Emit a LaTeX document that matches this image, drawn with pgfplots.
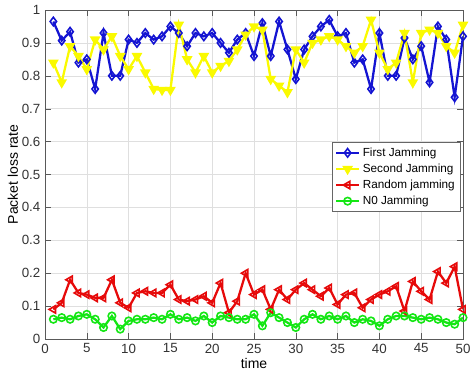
\documentclass[border=0pt]{standalone}
\usepackage{pgfplots}
\pgfplotsset{compat=1.18}
\usepackage{fontspec}
\setmainfont{Liberation Sans}
\definecolor{mblue}{RGB}{20,20,210}
\definecolor{myellow}{RGB}{250,250,0}
\definecolor{mred}{RGB}{230,10,10}
\definecolor{mgreen}{RGB}{20,230,20}
\begin{document}
\begin{tikzpicture}
\begin{axis}[
  scale only axis,
  width=313.5pt, height=246.75pt,
  xmin=0, xmax=50, ymin=0, ymax=1,
  xtick={0,5,...,50},
  ytick={0,0.1,...,1.0},
  yticklabel style={/pgf/number format/fixed,/pgf/number format/precision=1},
  /pgf/number format/assume math mode=true,
  tick label style={font=\fontsize{10}{12}\selectfont, text=black!80},
  label style={font=\fontsize{10.5}{12}\selectfont},
  xlabel={time}, ylabel={Packet loss rate},
  xlabel style={yshift=3pt},
  ylabel style={yshift=-4pt},
  grid=major,
  major grid style={gray!25, line width=0.4pt},
  axis line style={black!65},
  tick style={black!65},
  tick align=inside,
  legend style={at={(0.993,0.598)}, anchor=north east, font=\fontsize{8.8}{10.5}\selectfont,
    draw=black!60, row sep=0.2pt, inner sep=1.8pt},
  legend cell align=left,
  every axis plot/.append style={line width=1.7pt},
]
\addplot[mblue, mark=diamond, mark size=3.2pt, mark options={line width=1.2pt}] coordinates {
(1,0.965)(2,0.907)(3,0.934)(4,0.84)(5,0.85)(6,0.76)(7,0.93)(8,0.80)(9,0.80)(10,0.91)
(11,0.90)(12,0.93)(13,0.91)(14,0.92)(15,0.95)(16,0.93)(17,0.89)(18,0.93)(19,0.92)(20,0.93)
(21,0.90)(22,0.87)(23,0.91)(24,0.93)(25,0.86)(26,0.96)(27,0.86)(28,0.965)(29,0.88)(30,0.79)
(31,0.88)(32,0.92)(33,0.95)(34,0.97)(35,0.92)(36,0.93)(37,0.84)(38,0.85)(39,0.76)(40,0.93)
(41,0.80)(42,0.80)(43,0.915)(44,0.85)(45,0.89)(46,0.78)(47,0.95)(48,0.91)(49,0.735)(50,0.92)
};
\addlegendentry{First Jamming}
\addplot[myellow, mark=triangle*, mark size=3pt, mark options={rotate=180, fill=myellow}] coordinates {
(1,0.84)(2,0.78)(3,0.89)(4,0.86)(5,0.82)(6,0.91)(7,0.88)(8,0.92)(9,0.86)(10,0.82)
(11,0.86)(12,0.81)(13,0.76)(14,0.757)(15,0.757)(16,0.955)(17,0.85)(18,0.81)(19,0.86)(20,0.81)
(21,0.83)(22,0.845)(23,0.88)(24,0.925)(25,0.95)(26,0.94)(27,0.79)(28,0.77)(29,0.75)(30,0.88)
(31,0.84)(32,0.90)(33,0.91)(34,0.92)(35,0.91)(36,0.89)(37,0.87)(38,0.89)(39,0.97)(40,0.87)
(41,0.82)(42,0.84)(43,0.93)(44,0.78)(45,0.93)(46,0.94)(47,0.93)(48,0.89)(49,0.87)(50,0.955)
};
\addlegendentry{Second Jamming}
\addplot[mred, mark=triangle, mark size=3.2pt, mark options={rotate=90, line width=1.2pt}] coordinates {
(1,0.09)(2,0.11)(3,0.18)(4,0.14)(5,0.135)(6,0.125)(7,0.125)(8,0.18)(9,0.11)(10,0.095)
(11,0.14)(12,0.145)(13,0.14)(14,0.14)(15,0.165)(16,0.12)(17,0.115)(18,0.12)(19,0.13)(20,0.11)
(21,0.17)(22,0.08)(23,0.115)(24,0.20)(25,0.135)(26,0.15)(27,0.09)(28,0.15)(29,0.12)(30,0.15)
(31,0.17)(32,0.15)(33,0.13)(34,0.155)(35,0.105)(36,0.135)(37,0.14)(38,0.095)(39,0.12)(40,0.135)
(41,0.145)(42,0.16)(43,0.085)(44,0.175)(45,0.145)(46,0.12)(47,0.205)(48,0.17)(49,0.22)(50,0.09)
};
\addlegendentry{Random jamming}
\addplot[mgreen, mark=o, mark size=2.8pt, mark options={line width=1.2pt}] coordinates {
(1,0.06)(2,0.065)(3,0.06)(4,0.07)(5,0.075)(6,0.06)(7,0.035)(8,0.07)(9,0.03)(10,0.055)
(11,0.06)(12,0.06)(13,0.065)(14,0.06)(15,0.075)(16,0.06)(17,0.065)(18,0.055)(19,0.07)(20,0.05)
(21,0.07)(22,0.065)(23,0.06)(24,0.06)(25,0.075)(26,0.04)(27,0.08)(28,0.065)(29,0.05)(30,0.035)
(31,0.06)(32,0.075)(33,0.06)(34,0.07)(35,0.06)(36,0.07)(37,0.05)(38,0.06)(39,0.055)(40,0.04)
(41,0.06)(42,0.07)(43,0.07)(44,0.065)(45,0.06)(46,0.065)(47,0.06)(48,0.05)(49,0.045)(50,0.065)
};
\addlegendentry{N0 Jamming}
\end{axis}
\pgfresetboundingbox
\path (current axis.south west) ++(-33.75pt,-30.75pt) coordinate (bbA);
\path (current axis.north east) ++(8.25pt,7.5pt) coordinate (bbB);
\useasboundingbox (bbA) rectangle (bbB);
\end{tikzpicture}
\end{document}
